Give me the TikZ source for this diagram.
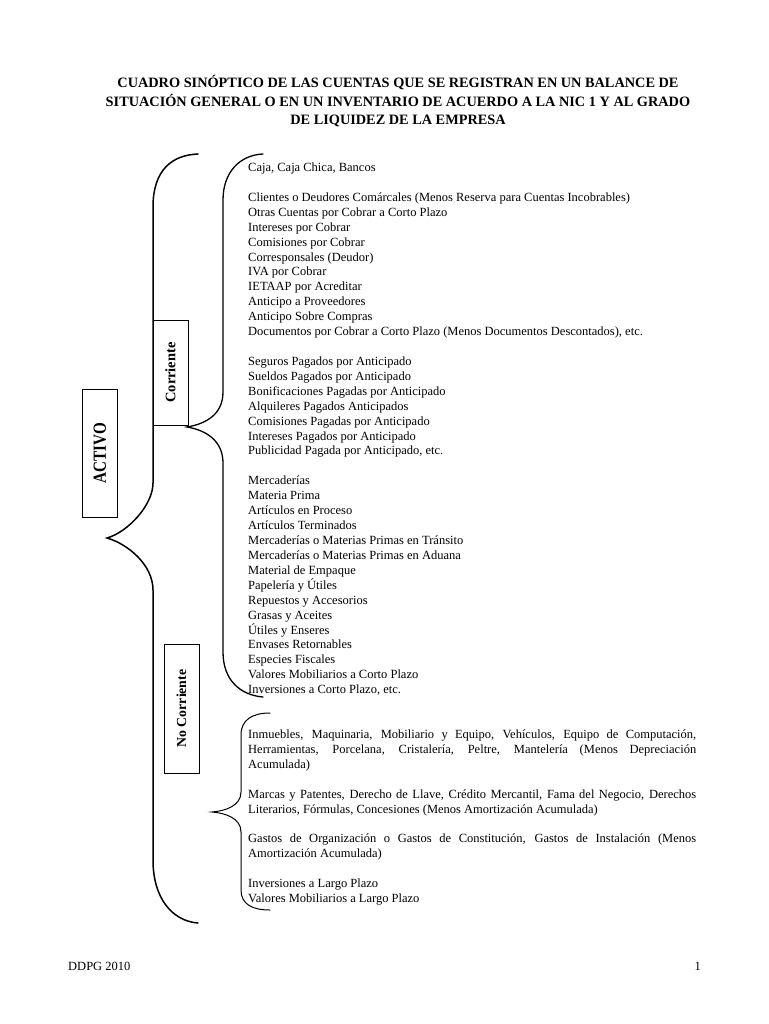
\documentclass[tikz,border=0pt]{standalone}
\usepackage{fontspec}
\setmainfont{Liberation Serif}
\newfontfamily\lblfont[FakeStretch=0.82]{Liberation Serif Bold}
\usetikzlibrary{positioning}

\begin{document}
\begin{tikzpicture}[x=1pt, y=-1pt,
      item/.style={anchor=base west, inner sep=0pt, font=\fontsize{12.5}{15}\selectfont},
      ttl/.style={anchor=base, inner sep=0pt, font=\bfseries\fontsize{14.3}{18}\selectfont},
      lbl/.style={draw, line width=0.8pt, rotate=90, inner sep=0pt, minimum height=35pt,
                  font=\bfseries\fontsize{14.5}{16}\selectfont},
      brc/.style={line width=1.4pt, line cap=round}]
    \useasboundingbox[fill=white] (0,0) rectangle (768,1024);
    % titulo
    \node[ttl] (t1) at (398,88)  {CUADRO SINÓPTICO DE LAS CUENTAS QUE SE REGISTRAN EN UN BALANCE DE};
    \node[ttl] (t2) at (398,107) {SITUACIÓN GENERAL O EN UN INVENTARIO DE ACUERDO A LA NIC 1 Y AL GRADO};
    \node[ttl] (t3) at (398,125) {DE LIQUIDEZ DE LA EMPRESA};
    % rubros
    \node[lbl, minimum width=128pt, font=\lblfont\fontsize{18.5}{20}\selectfont] (activo) at (100,453) {ACTIVO};
    \node[lbl, minimum width=105pt] (corr) at (170.5,372.5) {Corriente};
    \node[lbl, minimum width=129pt, font=\bfseries\fontsize{13.8}{16}\selectfont] (nocorr) at (181.5,708.5) {No Corriente};
    % llaves
    \draw[brc, line width=1.5pt] (198,154) .. controls (172,155) and (153,170) .. (153,207) -- (153,483)
      .. controls (153,505) and (128,532) .. (107,538) .. controls (128,544) and (153,565) .. (153,590)
      -- (153,860) .. controls (153,898) and (172,921) .. (198,923);
    \draw[brc, line width=1.3pt] (263,154) .. controls (240,155) and (223,172) .. (223,200) -- (223,392)
      .. controls (223,415) and (205,424) .. (187,427) .. controls (205,430) and (223,440) .. (223,463)
      -- (223,652) .. controls (223,680) and (240,695) .. (263,697);
    \draw[brc, line width=1pt] (270,713) .. controls (252,713) and (241,720) .. (241,735) -- (241,792)
      .. controls (241,806) and (225,811) .. (212,812) .. controls (225,813) and (241,818) .. (241,832)
      -- (241,890) .. controls (241,904) and (252,910) .. (270,910);
    % cuentas
    \foreach \i/\t in {
        0/{Caja, Caja Chica, Bancos},
        2/{Clientes o Deudores Comárcales (Menos Reserva para Cuentas Incobrables)},
        3/{Otras Cuentas por Cobrar a Corto Plazo},
        4/{Intereses por Cobrar},
        5/{Comisiones por Cobrar},
        6/{Corresponsales (Deudor)},
        7/{IVA por Cobrar},
        8/{IETAAP por Acreditar},
        9/{Anticipo a Proveedores},
        10/{Anticipo Sobre Compras},
        11/{Documentos por Cobrar a Corto Plazo (Menos Documentos Descontados), etc.},
        13/{Seguros Pagados por Anticipado},
        14/{Sueldos Pagados por Anticipado},
        15/{Bonificaciones Pagadas por Anticipado},
        16/{Alquileres Pagados Anticipados},
        17/{Comisiones Pagadas por Anticipado},
        18/{Intereses Pagados por Anticipado},
        19/{Publicidad Pagada por Anticipado, etc.},
        21/{Mercaderías},
        22/{Materia Prima},
        23/{Artículos en Proceso},
        24/{Artículos Terminados},
        25/{Mercaderías o Materias Primas en Tránsito},
        26/{Mercaderías o Materias Primas en Aduana},
        27/{Material de Empaque},
        28/{Papelería y Útiles},
        29/{Repuestos y Accesorios},
        30/{Grasas y Aceites},
        31/{Útiles y Enseres},
        32/{Envases Retornables},
        33/{Especies Fiscales},
        34/{Valores Mobiliarios a Corto Plazo},
        35/{Inversiones a Corto Plazo, etc.},
        38/{\makebox[448pt][s]{Inmuebles, Maquinaria, Mobiliario y Equipo, Vehículos, Equipo de Computación,}},
        39/{\makebox[448pt][s]{Herramientas, Porcelana, Cristalería, Peltre, Mantelería (Menos Depreciación}},
        40/{Acumulada)},
        42/{\makebox[448pt][s]{Marcas y Patentes, Derecho de Llave, Crédito Mercantil, Fama del Negocio, Derechos}},
        43/{Literarios, Fórmulas, Concesiones (Menos Amortización Acumulada)},
        45/{\makebox[448pt][s]{Gastos de Organización o Gastos de Constitución, Gastos de Instalación (Menos}},
        46/{Amortización Acumulada)},
        48/{Inversiones a Largo Plazo},
        49/{Valores Mobiliarios a Largo Plazo}}
      \node[item] (ln\i) at (248,{171.5+14.92*\i}) {\t};
    % pie
    \node[item] (pie) at (68,970.5) {DDPG 2010};
    \node[item, anchor=base east] (pag) at (701,970.5) {1};
\end{tikzpicture}
\end{document}
